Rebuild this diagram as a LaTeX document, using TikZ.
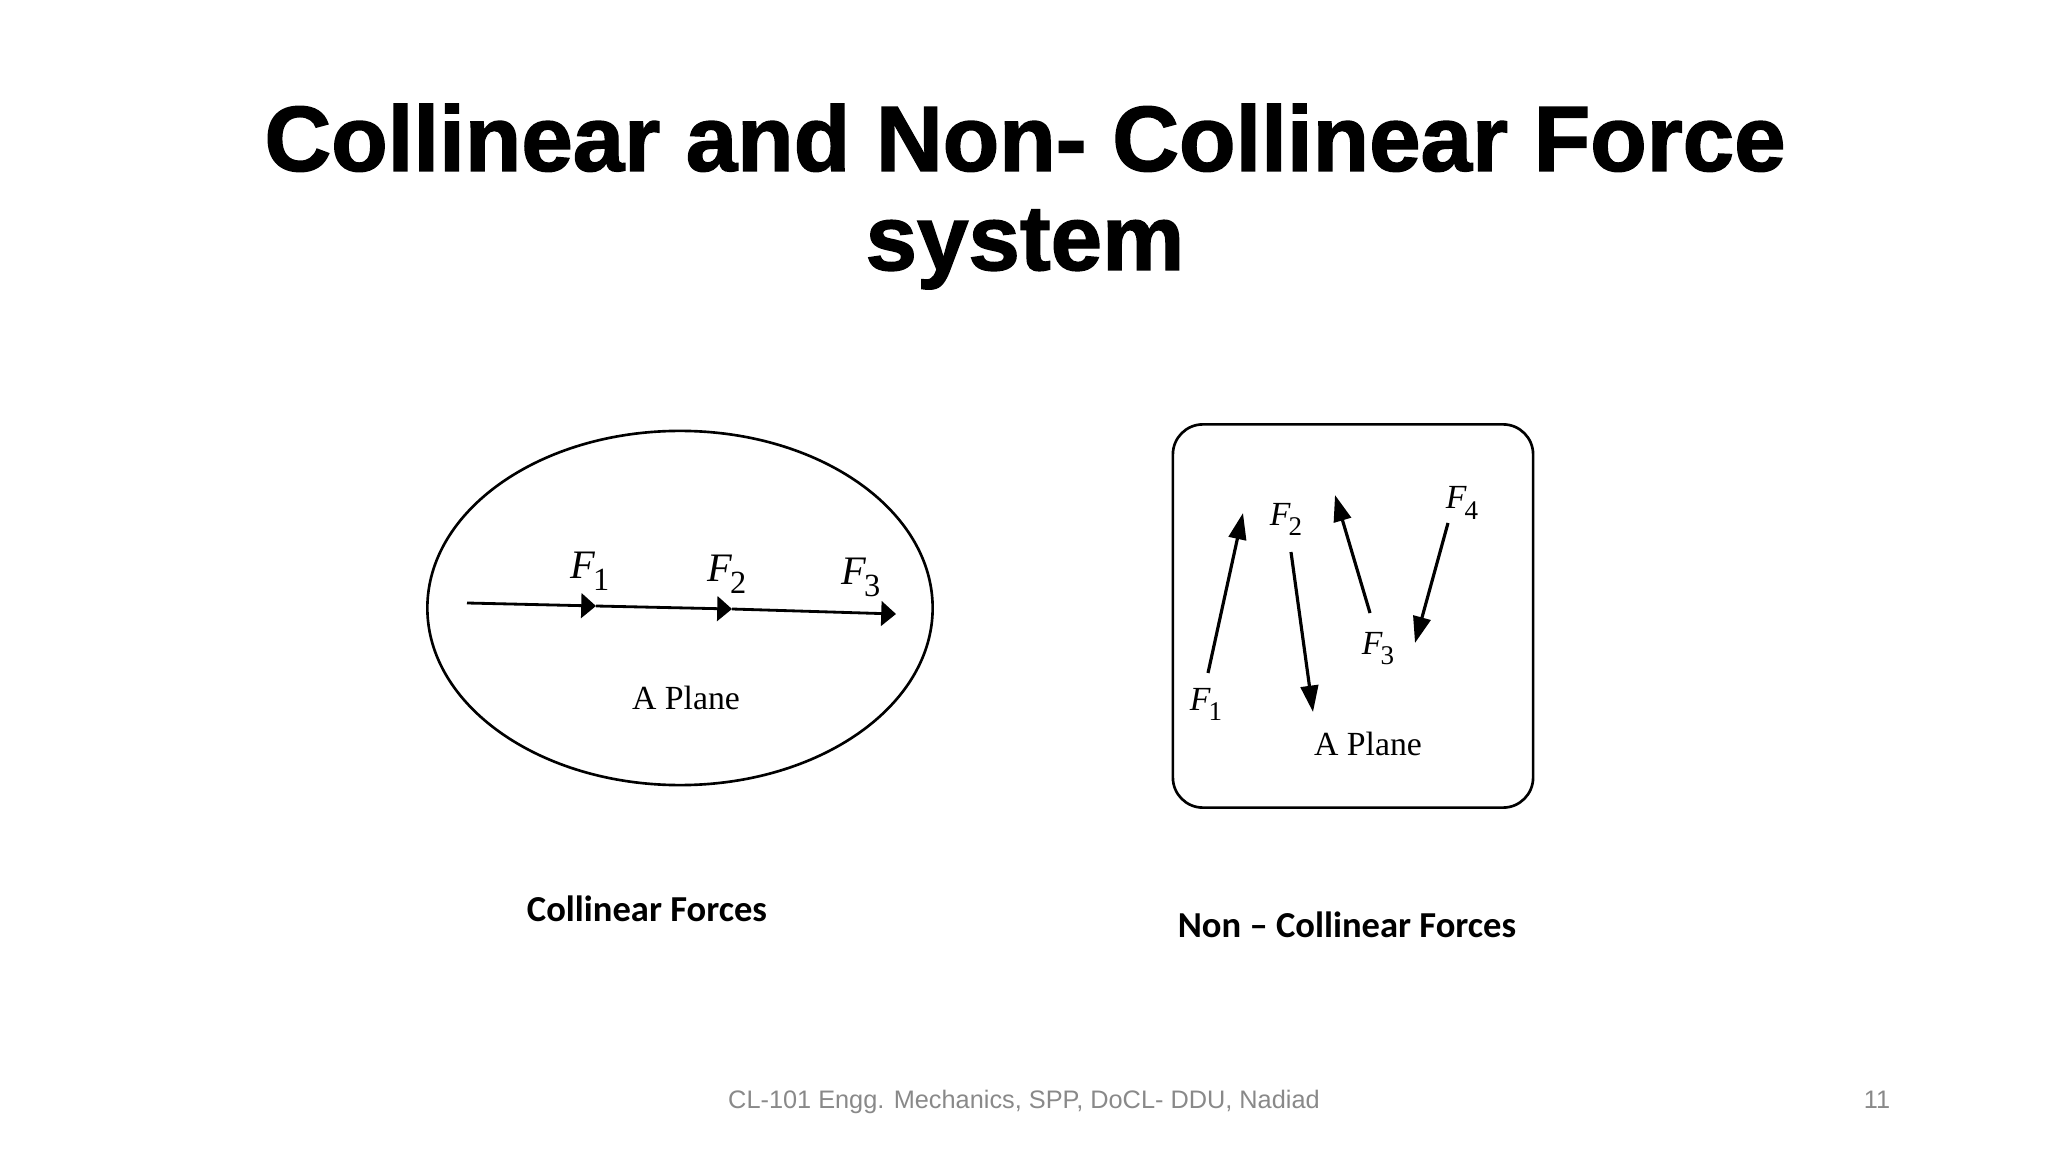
\documentclass[tikz,border=0pt]{standalone}
\usepackage{graphicx}
\usepackage{fontspec}
\setmainfont{Liberation Serif}
\newfontfamily\titlefont{Liberation Sans}[BoldFeatures={FakeBold=1.6}]
\newfontfamily\footfont{Liberation Sans}
\newfontfamily\capfont{Carlito}
\usetikzlibrary{arrows.meta,shapes.geometric}
\definecolor{footgray}{HTML}{898989}
\newcommand{\force}[1]{\textit{F}\kern-0.06em\raisebox{-0.7ex}{\scalebox{0.8}{#1}}}

\begin{document}
\begin{tikzpicture}[x=0.01cm,y=-0.01cm,
  plane/.style={draw,line width=0.75pt,inner sep=0pt},
  lforce/.style={-{Triangle[length=4.2pt,width=7pt]},line width=0.8pt},
  rforce/.style={-{Triangle[length=7.5pt,width=5pt]},line width=0.9pt},
  flabel/.style={inner sep=0pt,anchor=base},
  caption/.style={inner sep=0pt,anchor=base,font=\capfont\bfseries\fontsize{10.4}{12}\selectfont},
  foot/.style={inner sep=0pt,anchor=base,text=footgray,font=\footfont\fontsize{7.2}{8}\selectfont}]
\useasboundingbox (0,0) rectangle (2048,1152);

% Titre
\node [anchor=base,inner sep=0pt,align=center,
  font=\titlefont\bfseries\fontsize{26.3}{28.2}\selectfont] (title) at (1025,270)
  {Collinear and Non- Collinear Force\\system};

% Plan des forces colineaires
\node [plane,ellipse,minimum width=5.05cm,minimum height=3.54cm] (plane1) at (680,608) {};
\coordinate (c0) at (467,603);
\coordinate (c1) at (596,606);
\coordinate (c2) at (732,609);
\coordinate (c3) at (896,614);
\draw[lforce] (c0) -- (c1);
\draw[lforce] (c1) -- (c2);
\draw[lforce] (c2) -- (c3);
\node [flabel,font=\fontsize{11.5}{13}\selectfont] (f1) at (590,578) {\force{1}};
\node [flabel,font=\fontsize{11.5}{13}\selectfont] (f2) at (727,581) {\force{2}};
\node [flabel,font=\fontsize{11.5}{13}\selectfont] (f3) at (861,584) {\force{3}};
\node [flabel,font=\fontsize{9.6}{11}\selectfont] (plane1txt) at (686,709) {A Plane};

% Plan des forces non colineaires
\node [plane,rectangle,rounded corners=0.3cm,minimum width=3.6cm,minimum height=3.83cm] (plane2) at (1353,616) {};
\coordinate (n1a) at (1208,673);
\coordinate (n1b) at (1243,513);
\coordinate (n2a) at (1291,552);
\coordinate (n2b) at (1313,712);
\coordinate (n3a) at (1370,613);
\coordinate (n3b) at (1335,495);
\coordinate (n4a) at (1448,523);
\coordinate (n4b) at (1415,643);
\draw[rforce] (n1a) -- (n1b);
\draw[rforce] (n2a) -- (n2b);
\draw[rforce] (n3a) -- (n3b);
\draw[rforce] (n4a) -- (n4b);
\node [flabel,font=\fontsize{9.6}{11}\selectfont] (g1) at (1206,710) {\force{1}};
\node [flabel,font=\fontsize{9.6}{11}\selectfont] (g2) at (1286,525) {\force{2}};
\node [flabel,font=\fontsize{9.6}{11}\selectfont] (g3) at (1378,654) {\force{3}};
\node [flabel,font=\fontsize{9.6}{11}\selectfont] (g4) at (1462,509) {\force{4}};
\node [flabel,font=\fontsize{9.6}{11}\selectfont] (plane2txt) at (1368,755) {A Plane};

% Legendes
\node [caption] (cap1) at (647,921) {Collinear Forces};
\node [caption] (cap2) at (1347,937) {Non – Collinear Forces};

% Pied de page
\node [foot] (footer) at (1024,1108) {CL-101 Engg. Mechanics, SPP, DoCL- DDU, Nadiad};
\node [foot] (pagenum) at (1877,1108) {11};
\end{tikzpicture}
\end{document}
